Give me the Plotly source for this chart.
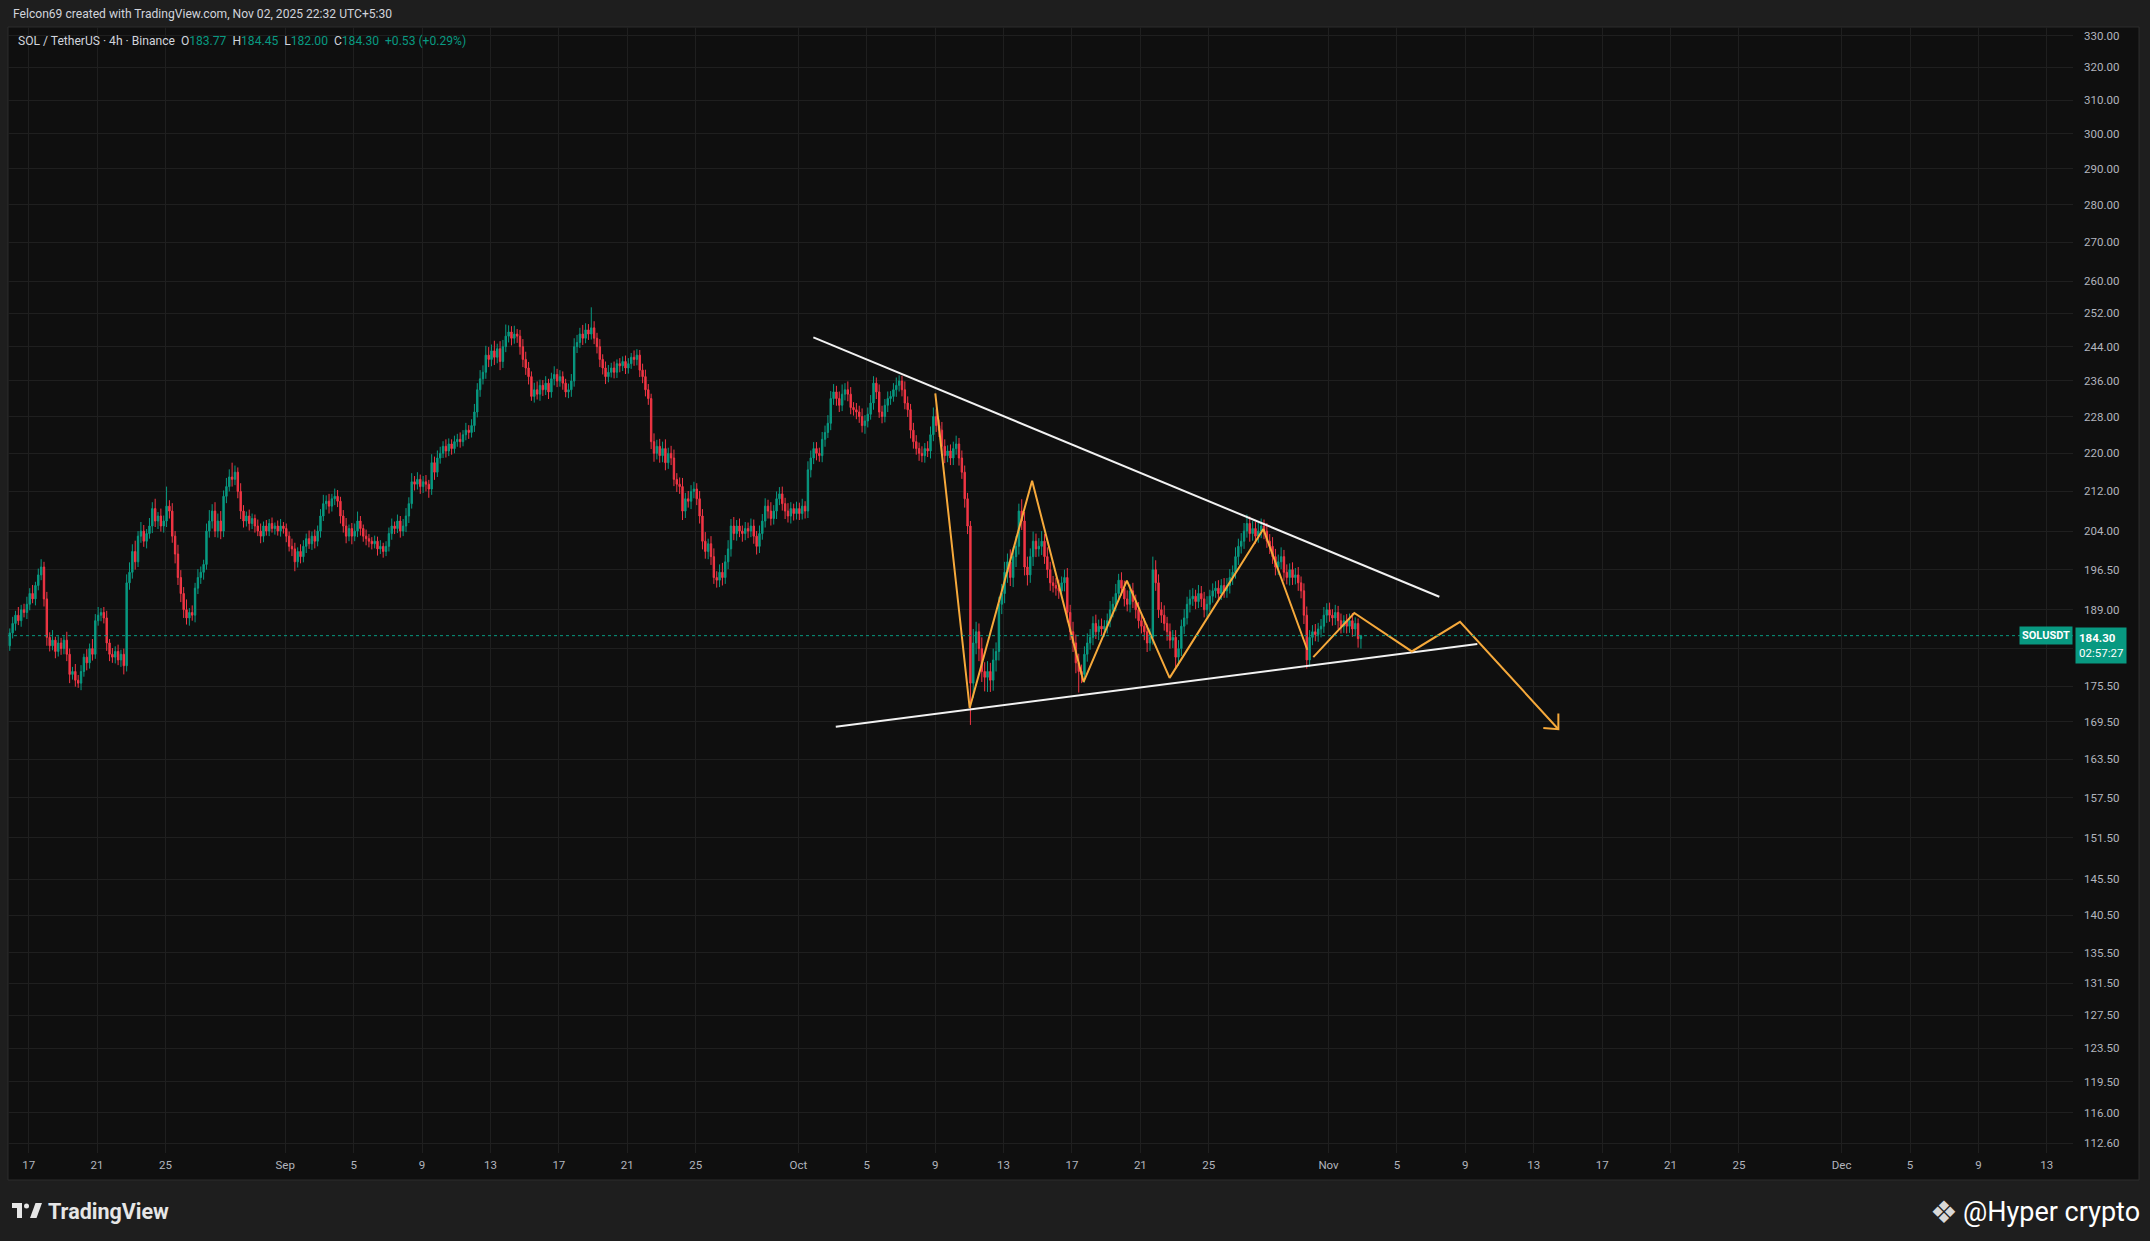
import math
import pandas as pd
import plotly.graph_objects as go

# ---------------- DATA (SOL/USDT 4h) ----------------
first_open = 182.5
close = [
    184.8,                                   # Aug 15
    186.5, 188, 187, 189, 188.5, 190,        # Aug 16
    192, 191, 193.5, 195.5, 197, 191,        # Aug 17
    184, 182.5, 183.5, 181.5, 183, 182,      # Aug 18
    183.5, 181, 177.5, 178, 176.5, 176,      # Aug 19
    178, 180.5, 179.5, 182, 181, 187,        # Aug 20
    188, 188.5, 187.5, 183, 181, 180.5,      # Aug 21
    181.5, 180, 181, 179, 194, 196,          # Aug 22
    200, 198, 203, 204, 202, 203.5,          # Aug 23
    205, 208.5, 206, 207, 205, 206,          # Aug 24
    209, 208, 203, 199.5, 195, 192,          # Aug 25
    189, 187.5, 188.5, 188, 193, 195,        # Aug 26
    196, 197.5, 204, 206, 208, 204,          # Aug 27
    206, 204, 211, 213, 215, 214.5,          # Aug 28
    216, 212, 208, 206, 207, 205.5,          # Aug 29
    206.5, 205, 204, 203, 205, 204,          # Aug 30
    205.5, 204.5, 205, 204, 205, 204.5,      # Aug 31
    203, 201, 200.5, 198, 200, 199,          # Sep 1
    201, 202.5, 201.5, 203, 202, 204,        # Sep 2
    207, 209.5, 210, 209, 210.5, 211,        # Sep 3
    210, 207, 205, 203, 204.5, 203,          # Sep 4
    204, 206, 204.5, 203, 202.5, 202,        # Sep 5
    201.5, 202, 200.5, 201, 200, 201,        # Sep 6
    203.5, 205, 204.5, 206, 204, 205,        # Sep 7
    207, 209.5, 214, 213.5, 214.5, 213,      # Sep 8
    214, 213.5, 212.5, 218, 216, 219,        # Sep 9
    220, 221.5, 220.5, 222, 221, 222.5,      # Sep 10
    223, 222.5, 224, 225, 224.5, 226,        # Sep 11
    229, 234, 236.5, 238, 242, 241,          # Sep 12
    243, 241.5, 243.5, 240.5, 244, 246.5,    # Sep 13
    247.5, 246, 247, 246.5, 244, 241,        # Sep 14
    239, 237, 232.5, 234, 233, 235,          # Sep 15
    234, 235.5, 233.5, 236.5, 237.5, 236,    # Sep 16
    237, 235.5, 233.5, 234, 236, 244,        # Sep 17
    245, 247, 246, 248, 247, 248.5,          # Sep 18
    246, 244, 241, 239, 237, 238,            # Sep 19
    239, 238, 240, 239.5, 240.5, 239,        # Sep 20
    240, 241.5, 241, 242, 238.5, 237,        # Sep 21
    234, 232, 222.5, 220, 221.5, 219.5,      # Sep 22
    221, 218, 220, 219, 214.5, 213.5,        # Sep 23
    213, 208, 210.5, 210, 212, 212.5,        # Sep 24
    210.5, 207, 202, 200, 201.5, 199,        # Sep 25
    195, 194.5, 196, 195, 198, 200.5,        # Sep 26
    205, 203.5, 205, 204, 203.5, 204.5,      # Sep 27
    204, 205, 203, 201, 203.5, 206,          # Sep 28
    209, 208, 206.5, 208, 210.5, 211.5,      # Sep 29
    209.5, 208, 207, 208.5, 207.5, 208.5,    # Sep 30
    207.5, 209, 208, 216.5, 219, 221,        # Oct 1
    220, 219.5, 223, 224.5, 226.5, 232,      # Oct 2
    233.5, 232, 230.5, 233, 234, 233,        # Oct 3
    230, 229.5, 229, 228, 226, 227,          # Oct 4
    228.5, 231, 235.5, 233.5, 229, 228,      # Oct 5
    230.5, 232, 232.5, 234, 235, 236,        # Oct 6
    234, 231, 229.5, 225, 222.5, 221,        # Oct 7
    220, 219.5, 221, 220.5, 224, 228,        # Oct 8
    226, 225, 221.5, 219.5, 220.5, 219,      # Oct 9
    221, 222, 219, 216, 210.5, 205,          # Oct 10
    176, 183, 185, 182, 178, 177,            # Oct 11
    178, 176.5, 180, 181.5, 190, 192,        # Oct 12
    196, 198, 195, 199, 201, 208,            # Oct 13
    206, 197, 195.5, 199, 202, 200.5,        # Oct 14
    201, 202, 199, 196.5, 194, 193.5,        # Oct 15
    193, 192.5, 194, 195, 188.5, 185,        # Oct 16
    183, 179.5, 178, 177.5, 181, 183,        # Oct 17
    184, 186.5, 185, 186, 185.5, 186,        # Oct 18
    187, 189, 190, 192, 194.5, 193,          # Oct 19
    191, 190, 192.5, 190.5, 189, 187,        # Oct 20
    186, 185, 183, 184, 196.5, 194,          # Oct 21
    189, 188, 186.5, 185, 183.5, 184,        # Oct 22
    180.5, 182, 186, 187.5, 190, 191,        # Oct 23
    191.5, 190.5, 192, 191, 189, 190,        # Oct 24
    191.5, 192.5, 193, 192, 193.5, 192.5,    # Oct 25
    193.5, 195, 196, 199, 201, 202,          # Oct 26
    204, 205.5, 203.5, 204.5, 203, 204,      # Oct 27
    205, 204, 202, 201, 199, 197,            # Oct 28
    198, 199, 196, 195, 196.5, 195,          # Oct 29
    195.5, 194, 192.5, 188, 180, 184,        # Oct 30
    185, 184.5, 185.5, 186, 188, 189,        # Oct 31
    188, 187.5, 188.5, 187, 186, 187,        # Nov 1
    186, 187, 185.5, 186.5, 183.77, 184.30,  # Nov 2
]
wick_up = [
    0.8,
    1.2, 0.8, 1.5, 0.9, 1.1, 1.4,
    1.0, 1.6, 0.7, 1.2, 1.5, 1.0,
    1.3, 0.9, 1.8, 0.6, 1.2, 0.9,
    0.7, 1.5, 1.0, 0.8, 1.3, 0.9,
    1.1, 0.6, 1.4, 0.9, 1.7, 1.2,
    1.5, 0.8, 1.0, 1.3, 0.7, 1.1,
    0.9, 1.2, 0.8, 1.0, 1.6, 1.9,
    1.4, 2.1, 1.0, 1.8, 1.2, 0.9,
    1.6, 1.3, 2.0, 0.8, 1.5, 1.1,
    4.0, 1.2, 1.6, 1.0, 1.8, 1.4,
    1.2, 1.9, 0.8, 1.3, 1.0, 1.6,
    1.1, 0.9, 1.5, 2.2, 1.4, 1.8,
    1.5, 2.0, 1.2, 1.8, 1.6, 3.0,
    1.4, 1.0, 1.7, 1.2, 0.9, 1.3,
    1.0, 0.8, 1.3, 1.5, 0.9, 1.2,
    0.9, 1.2, 0.7, 1.1, 1.4, 0.8,
    1.0, 0.9, 1.5, 1.2, 0.8, 1.4,
    1.2, 1.0, 1.6, 0.9, 1.3, 1.1,
    1.4, 1.8, 1.2, 1.5, 1.0, 1.6,
    1.3, 0.9, 1.2, 1.6, 0.8, 1.1,
    1.5, 1.9, 1.0, 0.8, 1.3, 0.9,
    0.8, 1.1, 0.9, 1.2, 0.7, 1.0,
    1.2, 1.5, 0.9, 1.3, 1.0, 1.4,
    1.6, 1.3, 1.8, 1.2, 1.5, 1.0,
    1.2, 1.4, 0.9, 1.8, 1.3, 1.6,
    1.4, 1.1, 1.5, 1.2, 1.0, 1.3,
    1.2, 1.5, 1.0, 1.6, 1.1, 1.4,
    1.8, 1.5, 2.0, 1.6, 2.2, 1.9,
    1.5, 2.4, 1.2, 1.8, 1.6, 2.8,
    1.6, 1.4, 2.0, 1.2, 1.5, 1.8,
    1.8, 1.4, 1.2, 1.6, 1.9, 1.3,
    1.2, 1.6, 1.0, 1.4, 1.9, 1.3,
    1.5, 1.2, 1.0, 1.4, 1.6, 2.0,
    1.8, 1.5, 2.2, 1.6, 1.4, 5.0,
    1.6, 1.3, 1.8, 1.2, 1.5, 1.7,
    1.2, 1.5, 1.0, 1.3, 1.2, 1.4,
    1.3, 1.0, 1.6, 1.4, 1.2, 1.5,
    1.6, 1.3, 1.1, 1.8, 1.4, 1.6,
    1.5, 2.0, 1.2, 1.6, 1.8, 1.3,
    1.4, 1.8, 1.2, 1.6, 1.3, 1.5,
    1.2, 1.6, 1.4, 1.8, 1.0, 1.5,
    1.6, 1.2, 1.5, 1.8, 1.3, 1.7,
    1.4, 1.8, 1.2, 1.5, 1.1, 1.3,
    1.2, 1.5, 1.3, 1.0, 1.6, 1.4,
    1.6, 1.3, 1.8, 1.2, 1.5, 1.4,
    1.5, 1.2, 1.6, 1.3, 1.0, 1.4,
    1.2, 1.5, 1.0, 1.8, 1.6, 1.4,
    1.4, 1.2, 1.6, 1.5, 1.8, 1.7,
    1.8, 1.4, 1.6, 2.2, 1.5, 1.9,
    1.6, 1.2, 1.5, 1.4, 1.8, 1.3,
    1.5, 1.8, 1.6, 1.3, 1.7, 1.4,
    1.4, 1.6, 1.2, 1.5, 1.8, 1.3,
    1.2, 1.9, 1.5, 1.3, 1.6, 1.4,
    1.3, 1.5, 1.2, 1.6, 1.8, 2.0,
    1.6, 1.3, 1.8, 1.5, 1.2, 1.4,
    1.5, 1.8, 1.3, 1.6, 1.4, 1.2,
    1.0, 2.5, 1.8, 1.5, 2.0, 1.6,
    1.8, 1.5, 2.0, 1.6, 1.4, 1.8,
    2.0, 1.6, 2.4, 1.8, 2.0, 1.5,
    2.4, 1.8, 2.0, 1.6, 1.9, 1.5,
    1.6, 2.0, 1.4, 1.8, 1.5, 1.3,
    1.4, 1.6, 1.2, 1.5, 1.8, 1.4,
    1.8, 1.5, 1.6, 1.2, 1.4, 1.7,
    1.5, 1.3, 1.6, 1.2, 1.4, 1.1,
    1.3, 1.6, 1.4, 1.8, 1.2, 1.5,
    1.4, 1.6, 1.2, 1.5, 1.3, 1.4,
    1.2, 1.5, 1.3, 1.6, 2.5, 1.8,
    1.6, 1.4, 1.8, 1.2, 1.5, 1.3,
    1.3, 1.5, 1.2, 1.6, 1.4, 1.7,
    1.5, 1.2, 1.6, 1.4, 1.3, 1.5,
    1.2, 1.4, 1.3, 1.5, 1.2, 1.4,
    1.4, 1.6, 1.3, 1.8, 1.5, 1.6,
    1.6, 1.8, 1.4, 1.5, 1.3, 1.6,
    1.5, 1.3, 1.6, 1.4, 1.8, 1.5,
    1.4, 1.8, 1.3, 1.5, 1.2, 1.4,
    1.3, 1.5, 1.2, 1.4, 1.6, 1.3,
    1.2, 1.4, 1.1, 1.3, 1.5, 1.2,
    1.3, 1.1, 1.4, 1.2, 1.3, 1.0,
    1.2, 1.3, 1.4, 1.1, 0.9, 0.15,
]
wick_dn = [
    0.9,
    1.0, 1.3, 0.8, 1.1, 0.9, 1.2,
    1.1, 0.8, 1.2, 0.9, 1.0, 1.4,
    1.5, 1.0, 0.8, 1.2, 0.9, 1.1,
    1.0, 1.2, 1.5, 0.9, 1.1, 0.8,
    1.2, 0.9, 1.3, 1.0, 1.1, 0.8,
    0.9, 1.1, 1.0, 1.4, 1.2, 1.0,
    1.1, 0.9, 1.2, 1.5, 1.0, 1.3,
    1.2, 1.5, 1.0, 1.3, 1.1, 1.4,
    1.0, 1.4, 1.2, 1.6, 1.1, 1.3,
    1.2, 1.5, 1.3, 1.8, 1.4, 1.6,
    1.5, 1.2, 1.4, 1.0, 1.3, 1.1,
    1.2, 1.4, 1.0, 1.3, 1.5, 1.2,
    1.3, 1.6, 1.2, 1.4, 1.0, 1.5,
    1.2, 1.4, 1.6, 1.3, 1.1, 1.4,
    1.1, 1.3, 1.0, 1.4, 1.2, 0.9,
    1.0, 0.8, 1.2, 0.9, 1.1, 1.0,
    1.2, 1.0, 1.4, 1.8, 1.1, 1.3,
    1.1, 1.3, 1.0, 1.2, 1.4, 1.0,
    1.3, 1.0, 1.2, 1.5, 1.1, 1.3,
    1.2, 1.5, 1.3, 1.4, 1.0, 1.6,
    1.0, 1.2, 1.4, 1.1, 1.3, 1.2,
    1.1, 0.9, 1.3, 1.0, 1.2, 0.9,
    1.0, 1.2, 1.1, 0.9, 1.3, 1.0,
    1.2, 1.4, 1.0, 1.3, 1.1, 1.5,
    1.3, 1.5, 1.8, 1.2, 1.6, 1.0,
    1.2, 1.0, 1.4, 1.1, 1.3, 1.0,
    1.1, 1.3, 1.0, 1.2, 1.4, 1.1,
    1.4, 1.2, 1.6, 1.3, 1.5, 1.8,
    1.6, 1.8, 1.4, 2.0, 1.5, 1.3,
    1.5, 1.7, 1.3, 1.6, 1.9, 1.8,
    1.6, 1.8, 1.0, 1.4, 1.2, 1.5,
    1.4, 1.2, 1.6, 1.3, 1.5, 1.4,
    1.3, 1.5, 1.2, 1.4, 1.6, 1.3,
    1.5, 1.3, 1.6, 1.2, 1.4, 1.3,
    1.4, 1.6, 1.8, 1.5, 1.7, 1.3,
    1.2, 1.4, 1.3, 1.5, 1.2, 1.4,
    1.3, 1.2, 1.5, 1.4, 1.6, 1.5,
    1.5, 1.4, 1.6, 1.8, 1.3, 1.5,
    1.4, 1.6, 1.3, 1.5, 1.4, 1.6,
    1.5, 1.8, 1.4, 1.3, 1.6, 1.4,
    1.3, 1.5, 1.6, 1.4, 1.5, 1.6,
    1.2, 1.4, 1.3, 1.5, 1.2, 1.4,
    1.5, 1.3, 1.4, 1.2, 1.6, 1.3,
    1.4, 1.2, 1.5, 1.6, 1.3, 1.2,
    1.3, 1.5, 1.4, 1.2, 1.6, 1.3,
    1.4, 1.6, 1.3, 1.5, 1.4, 1.2,
    1.3, 1.2, 1.5, 1.4, 1.6, 1.3,
    1.5, 1.3, 1.4, 1.6, 1.2, 1.5,
    1.4, 1.6, 1.5, 1.3, 1.4, 1.6,
    1.5, 1.3, 1.6, 1.4, 1.5, 1.8,
    1.4, 1.2, 1.5, 1.6, 1.3, 1.5,
    1.3, 1.5, 1.4, 1.2, 1.6, 1.4,
    1.5, 1.4, 1.6, 1.8, 1.5, 1.3,
    1.6, 1.4, 1.5, 1.3, 1.6, 1.4,
    1.4, 1.5, 1.3, 1.6, 1.4, 1.5,
    1.5, 1.3, 1.6, 1.4, 1.8, 1.6,
    7.0, 2.5, 2.0, 2.2, 1.8, 2.4,
    2.5, 2.0, 1.8, 2.0, 1.6, 1.8,
    1.8, 2.0, 1.6, 1.8, 2.0, 1.6,
    1.8, 1.6, 2.0, 1.5, 1.8, 1.6,
    1.5, 1.7, 1.4, 1.6, 1.5, 1.3,
    1.4, 1.5, 1.3, 1.6, 1.8, 1.5,
    1.6, 1.8, 3.6, 1.5, 1.4, 1.3,
    1.2, 1.4, 1.3, 1.5, 1.2, 1.4,
    1.3, 1.2, 1.4, 1.3, 1.5, 1.4,
    1.4, 1.3, 1.5, 1.2, 1.6, 1.4,
    1.3, 1.5, 1.6, 1.4, 1.3, 1.5,
    1.5, 1.4, 1.3, 1.6, 1.5, 1.4,
    2.0, 1.5, 1.3, 1.4, 1.2, 1.5,
    1.3, 1.4, 1.2, 1.5, 1.4, 1.3,
    1.4, 1.2, 1.3, 1.4, 1.2, 1.3,
    1.3, 1.5, 1.4, 1.2, 1.6, 1.4,
    1.5, 1.3, 1.6, 1.4, 1.5, 1.3,
    1.4, 1.6, 1.3, 1.5, 1.4, 1.6,
    1.5, 1.4, 1.6, 1.3, 1.5, 1.4,
    1.3, 1.5, 1.4, 1.6, 1.5, 1.2,
    1.4, 1.2, 1.3, 1.5, 1.2, 1.4,
    1.2, 1.4, 1.3, 1.5, 1.3, 1.2,
    1.3, 1.2, 1.4, 1.3, 1.6, 1.77,
]
first_candle = "2025-08-15 21:30"

# drawings (date, price)
upper_trend_x = ["2025-10-01 21:07", "2025-11-07 11:30"]
upper_trend_y = [246.2, 191.4]
lower_trend_x = ["2025-10-03 04:34", "2025-11-09 16:48"]
lower_trend_y = [168.7, 182.8]
zigzag1_x = ["2025-10-09 00:14", "2025-10-11 00:29", "2025-10-14 16:05", "2025-10-17 16:19",
             "2025-10-20 05:02", "2025-10-22 17:02", "2025-10-28 04:34", "2025-10-30 18:14"]
zigzag1_y = [233.2, 171.8, 214.2, 176.2, 194.4, 176.9, 204.4, 181.8]
zigzag2_x = ["2025-10-31 02:38", "2025-11-02 12:14", "2025-11-05 20:53", "2025-11-08 16:34", "2025-11-14 10:34"]
zigzag2_y = [180.5, 188.4, 181.5, 186.8, 168.3]
arrow_x = ["2025-11-13 13:26", "2025-11-14 10:34", "2025-11-14 10:34"]
arrow_y = [168.5, 168.3, 170.9]

last_price = 184.30
countdown = "02:57:27"

price_ticks = [330, 320, 310, 300, 290, 280, 270, 260, 252, 244, 236, 228, 220, 212, 204,
               196.5, 189, 182, 175.5, 169.5, 163.5, 157.5, 151.5, 145.5, 140.5, 135.5,
               131.5, 127.5, 123.5, 119.5, 116, 112.6]
price_hidden = [182]
date_ticks = ["2025-08-17", "2025-08-21", "2025-08-25", "2025-09-01", "2025-09-05", "2025-09-09",
              "2025-09-13", "2025-09-17", "2025-09-21", "2025-09-25", "2025-10-01", "2025-10-05",
              "2025-10-09", "2025-10-13", "2025-10-17", "2025-10-21", "2025-10-25", "2025-11-01",
              "2025-11-05", "2025-11-09", "2025-11-13", "2025-11-17", "2025-11-21", "2025-11-25",
              "2025-12-01", "2025-12-05", "2025-12-09", "2025-12-13"]
date_labels = ["17", "21", "25", "Sep", "5", "9", "13", "17", "21", "25", "Oct", "5", "9", "13",
               "17", "21", "25", "Nov", "5", "9", "13", "17", "21", "25", "Dec", "5", "9", "13"]

# ---------------- STYLE ----------------
W, H = 2150, 1241
ML, MR, MT, MB = 8, 77, 27, 88
PW, PH = W - ML - MR, H - MT - MB
UP, DN = "#089981", "#f23645"
ORANGE = "#f6a93b"
TXT = "#b2b5be"
GRID = "#1f1f1f"
FONT = "Roboto"


def fx(px):
    return (px - ML) / PW


def fy(py):
    return (H - MB - py) / PH


n = len(close)
times = pd.date_range(first_candle, periods=n, freq="4h")
opens = [first_open] + close[:-1]
highs = [max(o, c) + w for o, c, w in zip(opens, close, wick_up)]
lows = [min(o, c) - w for o, c, w in zip(opens, close, wick_dn)]

fig = go.Figure()
fig.add_trace(go.Candlestick(
    x=times, open=opens, high=highs, low=lows, close=close,
    increasing=dict(line=dict(color=UP, width=1), fillcolor=UP),
    decreasing=dict(line=dict(color=DN, width=1), fillcolor=DN),
    whiskerwidth=0, hoverinfo="skip", showlegend=False,
))

for xs, ys, col in [(upper_trend_x, upper_trend_y, "#f2f2f2"),
                    (lower_trend_x, lower_trend_y, "#f2f2f2"),
                    (zigzag1_x, zigzag1_y, ORANGE),
                    (zigzag2_x, zigzag2_y, ORANGE),
                    (arrow_x, arrow_y, ORANGE)]:
    fig.add_trace(go.Scatter(x=xs, y=ys, mode="lines",
                             line=dict(color=col, width=2),
                             hoverinfo="skip", showlegend=False))

price_text = ["" if v in price_hidden else f"{v:.2f}" for v in price_ticks]

fig.update_layout(
    width=W, height=H,
    margin=dict(l=ML, r=MR, t=MT, b=MB, pad=0),
    paper_bgcolor="#1e1e1e", plot_bgcolor="#0f0f0f",
    font=dict(family=FONT, color=TXT, size=11.5),
    showlegend=False,
    xaxis=dict(type="date", range=["2025-08-15 19:00", "2025-12-14 12:43"],
               tickvals=date_ticks, ticktext=date_labels,
               showgrid=True, gridcolor=GRID, gridwidth=1,
               zeroline=False, showline=False, ticks="",
               tickfont=dict(size=11.5, color=TXT),
               ticklabelstandoff=3,
               rangeslider=dict(visible=False), fixedrange=True),
    yaxis=dict(type="log", side="right",
               range=[math.log10(111.53), math.log10(332.79)],
               tickvals=price_ticks, ticktext=price_text,
               showgrid=True, gridcolor=GRID, gridwidth=1,
               zeroline=False, showline=False, ticks="",
               tickfont=dict(size=11.5, color=TXT),
               ticklabelstandoff=10, fixedrange=True),
)

shapes = [
    # chart frame incl. scales
    dict(type="rect", xref="paper", yref="paper", x0=fx(8), x1=fx(2139), y0=fy(1180), y1=fy(27),
         fillcolor="#0f0f0f", line=dict(color="#2c2c2c", width=1), layer="below"),
    # last price dotted line
    dict(type="line", xref="paper", yref="y", x0=0, x1=1, y0=last_price, y1=last_price,
         line=dict(color=UP, width=1, dash="dot")),
]
# TradingView logo
LOGO = "#e6e6e6"
shapes += [
    dict(type="rect", xref="paper", yref="paper", x0=fx(12), x1=fx(22), y0=fy(1208), y1=fy(1203),
         fillcolor=LOGO, line=dict(width=0)),
    dict(type="rect", xref="paper", yref="paper", x0=fx(17), x1=fx(22), y0=fy(1218), y1=fy(1203),
         fillcolor=LOGO, line=dict(width=0)),
    dict(type="circle", xref="paper", yref="paper", x0=fx(24), x1=fx(29), y0=fy(1208.5), y1=fy(1203.5),
         fillcolor=LOGO, line=dict(width=0)),
    dict(type="path", xref="paper", yref="paper",
         path=f"M {fx(30)} {fy(1218)} L {fx(35.5)} {fy(1203)} L {fx(42)} {fy(1203)} L {fx(36.5)} {fy(1218)} Z",
         fillcolor=LOGO, line=dict(width=0)),
]
fig.update_layout(shapes=shapes)

ylog = math.log10(last_price)
legend = ("SOL / TetherUS · 4h · Binance\u00a0\u00a0"
          f"O<span style='color:{UP}'>183.77</span>\u00a0\u00a0"
          f"H<span style='color:{UP}'>184.45</span>\u00a0\u00a0"
          f"L<span style='color:{UP}'>182.00</span>\u00a0\u00a0"
          f"C<span style='color:{UP}'>184.30</span>\u00a0\u00a0"
          f"<span style='color:{UP}'>+0.53 (+0.29%)</span>")
annotations = [
    dict(text="Felcon69 created with TradingView.com, Nov 02, 2025 22:32 UTC+5:30",
         xref="paper", yref="paper", x=fx(11), y=fy(14), xanchor="left", yanchor="middle",
         showarrow=False, font=dict(size=12.1, color="#d1d4dc", family=FONT)),
    dict(text=legend, xref="paper", yref="paper", x=fx(16), y=fy(41), xanchor="left", yanchor="middle",
         showarrow=False, font=dict(size=12.1, color="#d1d4dc", family=FONT)),
    dict(text="<b>SOLUSDT</b>", xref="paper", yref="y", x=1, y=ylog, xanchor="right", yanchor="middle",
         showarrow=False, bgcolor=UP, borderpad=2, font=dict(size=11, color="#ffffff", family=FONT)),
    dict(text=f"<b>{last_price:.2f}</b><br>{countdown}", xref="paper", yref="y", x=fx(2075), y=ylog,
         xanchor="left", yanchor="top", yshift=9, align="left",
         showarrow=False, bgcolor=UP, borderpad=3, font=dict(size=11.5, color="#ffffff", family=FONT)),
    dict(text="<b>TradingView</b>", xref="paper", yref="paper", x=fx(46), y=fy(1211),
         xanchor="left", yanchor="middle", showarrow=False,
         font=dict(size=21.5, color="#e6e6e6", family=FONT)),
    dict(text="❖", xref="paper", yref="paper", x=fx(1944), y=fy(1212),
         xanchor="center", yanchor="middle", showarrow=False,
         font=dict(size=31, color="#d8d8d8", family="DejaVu Sans")),
    dict(text="@Hyper crypto", xref="paper", yref="paper", x=fx(2142), y=fy(1212),
         xanchor="right", yanchor="middle", showarrow=False,
         font=dict(size=27, color="#ffffff", family=FONT)),
]
fig.update_layout(annotations=annotations)

fig.write_html("out.html", config={"displayModeBar": False},
               post_script="document.body.style.margin='0';document.body.style.background='#1e1e1e';")
